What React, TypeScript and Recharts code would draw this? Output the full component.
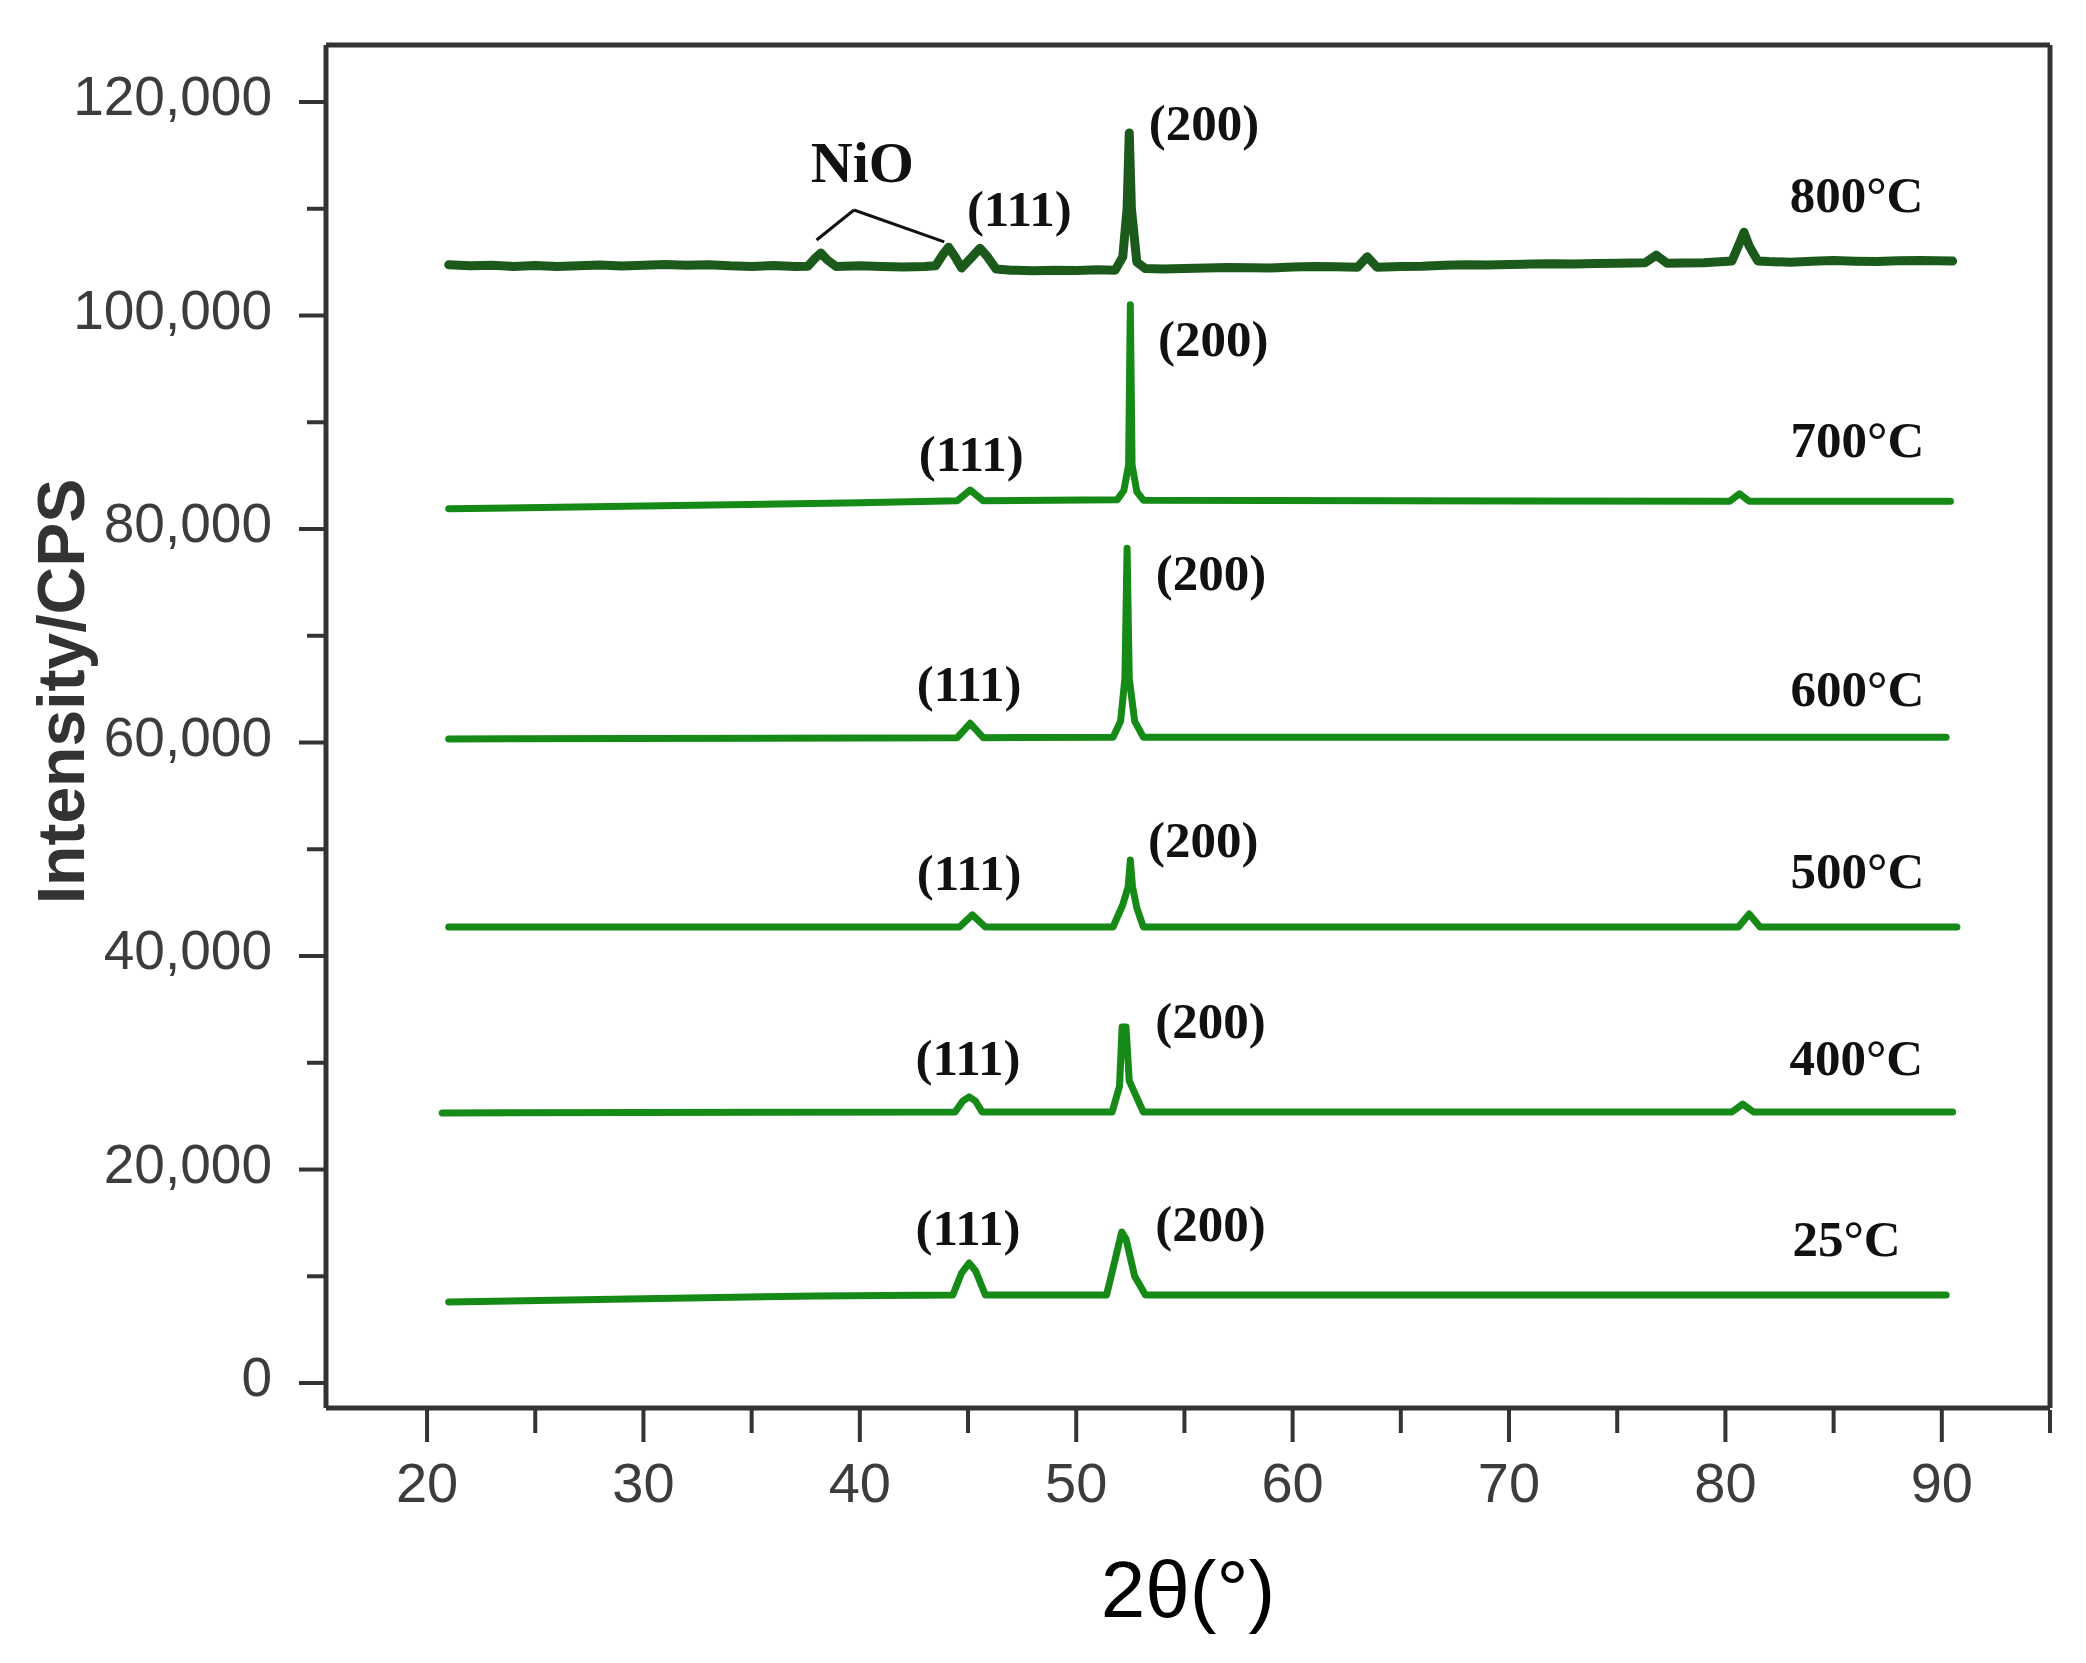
import React from 'react';
import { LineChart, Line, XAxis, YAxis, ReferenceDot, ReferenceLine, Label } from 'recharts';

// ---- data (2θ in degrees, intensity in CPS) ----
const s25: [number, number][] = [
  [21, 7600], [30, 7900], [38, 8150], [44.3, 8240], [44.7, 10300], [45.05, 11240], [45.35, 10500],
  [45.8, 8240], [51.4, 8240], [51.85, 12000], [52.1, 14150], [52.3, 13500], [52.7, 10000],
  [53.2, 8240], [70, 8240], [90.2, 8240],
];
const s400: [number, number][] = [
  [20.7, 25300], [44.4, 25390], [44.75, 26400], [45.05, 26800], [45.35, 26400], [45.65, 25390],
  [51.66, 25390], [52.0, 27800], [52.12, 33350], [52.3, 33350], [52.45, 28300], [53.1, 25390],
  [80.3, 25390], [80.8, 26130], [81.3, 25390], [90.5, 25390],
];
const s500: [number, number][] = [
  [21, 42720], [44.6, 42720], [45.2, 43850], [45.8, 42720], [51.7, 42720], [52.15, 44800],
  [52.4, 46500], [52.5, 49000], [52.6, 46500], [52.8, 44500], [53.1, 42720], [80.6, 42720],
  [81.1, 43930], [81.6, 42720], [90.7, 42720],
];
const s600: [number, number][] = [
  [21, 60330], [44.5, 60450], [45.1, 61800], [45.7, 60450], [51.7, 60500], [52.05, 62000],
  [52.25, 66000], [52.35, 78200], [52.45, 66000], [52.7, 62000], [53.1, 60500], [90.2, 60500],
];
const s700: [number, number][] = [
  [21, 81900], [30, 82150], [40, 82450], [44.5, 82650], [45.1, 83650], [45.7, 82650],
  [51.9, 82750], [52.2, 83600], [52.42, 86000], [52.5, 101000], [52.58, 86000], [52.8, 83500],
  [53.1, 82700], [80.2, 82600], [80.65, 83300], [81.1, 82600], [90.4, 82600],
];
const s800: [number, number][] = [
  [21, 104750], [22, 104650], [23, 104700], [24, 104600], [25, 104680], [26, 104580], [27, 104650],
  [28, 104720], [29, 104640], [30, 104700], [31, 104780], [32, 104700], [33, 104760], [34, 104650],
  [35, 104600], [36, 104680], [37, 104600], [37.6, 104620], [37.9, 105300], [38.2, 105850],
  [38.5, 105200], [38.9, 104600], [40, 104650], [41, 104580], [42, 104550], [43, 104600],
  [43.5, 104650], [43.8, 105600], [44.1, 106400], [44.4, 105500], [44.7, 104450], [45.1, 105300],
  [45.55, 106300], [45.9, 105500], [46.3, 104350], [47, 104250], [48, 104200], [49, 104250],
  [50, 104220], [51, 104280], [51.8, 104250], [52.15, 105500], [52.35, 110000], [52.45, 117100],
  [52.55, 110000], [52.8, 105000], [53.2, 104400], [54, 104350], [55, 104400], [56, 104450],
  [57, 104500], [58, 104480], [59, 104450], [60, 104550], [61, 104600], [62, 104560], [63, 104520],
  [63.45, 105500], [63.9, 104520], [65, 104600], [66, 104620], [67, 104700], [68, 104750],
  [69, 104720], [70, 104780], [71, 104820], [72, 104860], [73, 104830], [74, 104880], [75, 104900],
  [76.3, 104950], [76.8, 105650], [77.3, 104900], [78, 104920], [79, 104950], [80.3, 105100],
  [80.7, 107000], [80.86, 107800], [81.1, 106500], [81.5, 105100], [82, 105050], [83, 105000],
  [84, 105080], [85, 105150], [86, 105080], [87, 105050], [88, 105120], [89, 105150], [90.5, 105100],
];

const xTicks = [20, 25, 30, 35, 40, 45, 50, 55, 60, 65, 70, 75, 80, 85, 90, 95];
const yTicks = [0, 10000, 20000, 30000, 40000, 50000, 60000, 70000, 80000, 90000, 100000, 110000, 120000];
const xDomain: [number, number] = [15.33, 95];
const yDomain: [number, number] = [-2340, 125340];

const peakLabels = [
  { text: 'NiO', x: 40.12, y: 114470 },
  { text: '(111)', x: 47.37, y: 110120 },
  { text: '(200)', x: 55.9, y: 118130 },
  { text: '800°C', x: 86.06, y: 111430 },
  { text: '(200)', x: 56.33, y: 97900 },
  { text: '(111)', x: 45.15, y: 87100 },
  { text: '700°C', x: 86.1, y: 88430 },
  { text: '(200)', x: 56.23, y: 76000 },
  { text: '(111)', x: 45.05, y: 65570 },
  { text: '600°C', x: 86.1, y: 65100 },
  { text: '(200)', x: 55.87, y: 51000 },
  { text: '(111)', x: 45.05, y: 47870 },
  { text: '500°C', x: 86.1, y: 48060 },
  { text: '(200)', x: 56.2, y: 34000 },
  { text: '(111)', x: 45.0, y: 30540 },
  { text: '400°C', x: 86.05, y: 30540 },
  { text: '(200)', x: 56.2, y: 15000 },
  { text: '(111)', x: 45.0, y: 14600 },
  { text: '25°C', x: 85.6, y: 13630 },
];

const nioLeft = [{ x: 38.0, y: 107070 }, { x: 39.73, y: 109880 }];
const nioRight = [{ x: 39.73, y: 109880 }, { x: 43.9, y: 106900 }];

const seriesList = [
  { key: '25', points: s25, color: '#168a16', width: 7 },
  { key: '400', points: s400, color: '#168a16', width: 7 },
  { key: '500', points: s500, color: '#168a16', width: 7 },
  { key: '600', points: s600, color: '#168a16', width: 7 },
  { key: '700', points: s700, color: '#168a16', width: 7 },
  { key: '800', points: s800, color: '#1b5a1b', width: 9 },
];

const SANS = '"Liberation Sans", Arial, sans-serif';
const SERIF = '"Liberation Serif", "Times New Roman", serif';
const AXIS = '#333333';

const YTick = (props: any) => {
  const { x, y, payload } = props;
  const major = payload.value % 20000 === 0;
  return (
    <g>
      <line x1={x - (major ? 25 : 17)} x2={x} y1={y} y2={y} stroke={AXIS} strokeWidth={4} />
      {major && (
        <text x={x - 52} y={y} dy={13} textAnchor="end" fontSize={55} fill="#3c3c3c" fontFamily={SANS}>
          {payload.value.toLocaleString('en-US')}
        </text>
      )}
    </g>
  );
};

const XTick = (props: any) => {
  const { x, y, payload } = props;
  const major = payload.value % 10 === 0;
  return (
    <g>
      <line x1={x} x2={x} y1={y} y2={y + (major ? 32 : 23)} stroke={AXIS} strokeWidth={4} />
      {major && (
        <text x={x} y={y + 92} textAnchor="middle" fontSize={56} fill="#3c3c3c" fontFamily={SANS}>
          {payload.value}
        </text>
      )}
    </g>
  );
};

const YTitle = (props: any) => {
  const vb = props.viewBox || { x: 0, y: 37, width: 318, height: 1363 };
  const cx = vb.x + 76;
  const cy = vb.y + vb.height / 2 - 35;
  return (
    <text
      x={cx}
      y={cy}
      transform={`rotate(-90, ${cx}, ${cy})`}
      textAnchor="middle"
      fontSize={66}
      fontWeight="bold"
      fill="#333333"
      fontFamily={SANS}
    >
      Intensity/CPS
    </text>
  );
};

export default function App() {
  return (
    <div style={{ width: 2070, height: 1640, background: '#ffffff' }}>
      <LineChart width={2070} height={1640} margin={{ top: 37, right: 28, left: 0, bottom: 0 }}>
        <XAxis
          type="number"
          dataKey="x"
          domain={xDomain}
          ticks={xTicks}
          allowDataOverflow
          height={240}
          tickSize={0}
          tickLine={false}
          tick={<XTick />}
          axisLine={{ stroke: AXIS, strokeWidth: 5 }}
          interval={0}
        >
          <Label value="2θ(°)" position="insideBottom" offset={31} fontSize={80} fill="#000000" fontFamily={SANS} />
        </XAxis>
        <YAxis
          type="number"
          dataKey="y"
          domain={yDomain}
          ticks={yTicks}
          allowDataOverflow
          width={318}
          tickSize={0}
          tickLine={false}
          tick={<YTick />}
          axisLine={{ stroke: AXIS, strokeWidth: 5 }}
          interval={0}
        >
          <Label content={<YTitle />} />
        </YAxis>
        <ReferenceLine y={yDomain[1]} stroke={AXIS} strokeWidth={5} ifOverflow="visible" />
        <ReferenceLine x={xDomain[1]} stroke={AXIS} strokeWidth={5} ifOverflow="visible" />
        {seriesList.map((s) => (
          <Line
            key={s.key}
            data={s.points.map(([x, y]) => ({ x, y }))}
            dataKey="y"
            type="linear"
            stroke={s.color}
            strokeWidth={s.width}
            strokeLinejoin="round"
            strokeLinecap="round"
            dot={false}
            activeDot={false}
            isAnimationActive={false}
          />
        ))}
        <ReferenceLine segment={nioLeft} stroke="#111111" strokeWidth={3} ifOverflow="visible" />
        <ReferenceLine segment={nioRight} stroke="#111111" strokeWidth={3} ifOverflow="visible" />
        {peakLabels.map((p, i) => (
          <ReferenceDot
            key={i}
            x={p.x}
            y={p.y}
            r={0}
            fill="none"
            stroke="none"
            ifOverflow="visible"
            label={{
              value: p.text,
              position: 'center',
              fontSize: p.text === 'NiO' ? 58 : 51,
              fontWeight: 'bold',
              fill: '#111111',
              fontFamily: SERIF,
            }}
          />
        ))}
      </LineChart>
    </div>
  );
}
